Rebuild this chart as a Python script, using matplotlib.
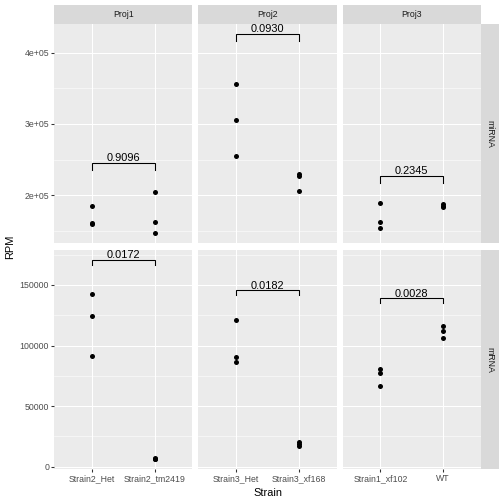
import matplotlib
matplotlib.use("Agg")
import matplotlib.pyplot as plt
from matplotlib.patches import Rectangle
import numpy as np

plt.rcParams['font.family'] = ['Liberation Sans', 'DejaVu Sans']

# ---------------- data ----------------
projects = ['Proj1', 'Proj2', 'Proj3']
rna_types = ['miRNA', 'mRNA']
proj_strains = [
    ['Strain2_Het', 'Strain2_tm2419'],
    ['Strain3_Het', 'Strain3_xf168'],
    ['Strain1_xf102', 'WT'],
]

# miRNA values (RPM)
mirna_proj1_a = [185000, 161000, 160000]
mirna_proj1_b = [204600, 162800, 146600]
mirna_proj2_a = [355200, 305000, 255400]
mirna_proj2_b = [230000, 227000, 205600]
mirna_proj3_a = [189300, 162000, 153600]
mirna_proj3_b = [188000, 185500, 183000]

# mRNA values (RPM)
mrna_proj1_a = [142500, 124100, 91100]
mrna_proj1_b = [7200, 6600, 6100]
mrna_proj2_a = [121300, 90300, 86400]
mrna_proj2_b = [20500, 19000, 17500]
mrna_proj3_a = [80600, 77000, 66800]
mrna_proj3_b = [116100, 112200, 106400]

mirna_pvals = ['0.9096', '0.0930', '0.2345']
mrna_pvals = ['0.0172', '0.0182', '0.0028']
mirna_bracket_y = [245600, 426000, 227000]
mrna_bracket_y = [170600, 145800, 139000]

mirna_ticks = [200000, 300000, 400000]
mirna_ticklabels = ['2e+05', '3e+05', '4e+05']
mrna_ticks = [0, 50000, 100000, 150000]
mrna_ticklabels = ['0', '50000', '100000', '150000']

values = [
    [(mirna_proj1_a, mirna_proj1_b), (mirna_proj2_a, mirna_proj2_b), (mirna_proj3_a, mirna_proj3_b)],
    [(mrna_proj1_a, mrna_proj1_b), (mrna_proj2_a, mrna_proj2_b), (mrna_proj3_a, mrna_proj3_b)],
]
pvals = [mirna_pvals, mrna_pvals]
bracket_y = [mirna_bracket_y, mrna_bracket_y]
ticks = [mirna_ticks, mrna_ticks]
ticklabels = [mirna_ticklabels, mrna_ticklabels]

# ---------------- layout ----------------
W = H = 504
fig = plt.figure(figsize=(W / 72, H / 72), dpi=72)

col_left = [54.0, 198.3, 342.6]
col_w = 138.4
row_top = [24.0, 250.0]
row_h = 219.3
strip_top = 5.0
strip_r_x = 480.5
strip_r_w = 18.5
tip_frac = [0.032, 0.023]

GRID_MAJOR = 1.07
GRID_MINOR = 0.53
PANEL_BG = '#EBEBEB'
STRIP_BG = '#D9D9D9'


def px_rect(x, y, w, h):
    return [x / W, 1 - (y + h) / H, w / W, h / H]


for r in range(2):
    # y limits from data with ggplot-like 5% expansion
    allv = []
    for c in range(3):
        a, b = values[r][c]
        allv += list(a) + list(b) + [bracket_y[r][c]]
    lo, hi = min(allv), max(allv)
    pad = 0.05 * (hi - lo)
    ylim = (lo - pad, hi + pad)
    maj = np.array(ticks[r])
    step = maj[1] - maj[0]
    minors = np.arange(maj[0] - step / 2, ylim[1], step)
    minors = minors[(minors > ylim[0]) & (minors < ylim[1])]

    for c in range(3):
        ax = fig.add_axes(px_rect(col_left[c], row_top[r], col_w, row_h))
        ax.set_facecolor(PANEL_BG)
        for s in ax.spines.values():
            s.set_visible(False)
        ax.set_xlim(0.4, 2.6)
        ax.set_ylim(*ylim)
        for m in minors:
            ax.axhline(m, color='white', lw=GRID_MINOR, zorder=0)
        for t in maj:
            ax.axhline(t, color='white', lw=GRID_MAJOR, zorder=0)
        for xv in (1, 2):
            ax.axvline(xv, color='white', lw=GRID_MAJOR, zorder=0)

        a, b = values[r][c]
        ax.plot([1] * len(a), a, 'o', color='black', ms=5, mec='none', zorder=3)
        ax.plot([2] * len(b), b, 'o', color='black', ms=5, mec='none', zorder=3)

        # significance bracket
        by = bracket_y[r][c]
        tip = tip_frac[r] * (ylim[1] - ylim[0])
        ax.plot([1, 1, 2, 2], [by - tip, by, by, by - tip], color='black',
                lw=1.07, solid_joinstyle='miter', clip_on=False, zorder=4)
        ax.annotate(pvals[r][c], xy=(1.5, by), xytext=(0, 1.5),
                    textcoords='offset points', ha='center', va='baseline',
                    fontsize=11, color='black', annotation_clip=False)

        ax.tick_params(axis='both', which='both', length=2.75, width=GRID_MAJOR,
                       color='#333333', labelcolor='#4D4D4D', labelsize=8.8, pad=2.2)
        ax.set_yticks(ticks[r])
        if c == 0:
            ax.set_yticklabels(ticklabels[r])
        else:
            ax.tick_params(axis='y', left=False, labelleft=False)
        if r == 1:
            ax.set_xticks([1, 2])
            ax.set_xticklabels(proj_strains[c])
        else:
            ax.set_xticks([])

        # top strips
        if r == 0:
            fig.patches.append(Rectangle((col_left[c] / W, 1 - row_top[0] / H),
                                         col_w / W, (row_top[0] - strip_top) / H,
                                         transform=fig.transFigure,
                                         facecolor=STRIP_BG, edgecolor='none'))
            fig.text((col_left[c] + col_w / 2) / W,
                     1 - ((strip_top + row_top[0]) / 2) / H,
                     projects[c], ha='center', va='center', fontsize=8.8,
                     color='#1A1A1A')

    # right strips
    fig.patches.append(Rectangle((strip_r_x / W, 1 - (row_top[r] + row_h) / H),
                                 strip_r_w / W, row_h / H,
                                 transform=fig.transFigure,
                                 facecolor=STRIP_BG, edgecolor='none'))
    fig.text((strip_r_x + strip_r_w / 2) / W, 1 - (row_top[r] + row_h / 2) / H,
             rna_types[r], ha='center', va='center', rotation=-90,
             fontsize=8.8, color='#1A1A1A')

# axis titles
fig.text(10 / W, 1 - ((row_top[0] + row_top[1] + row_h) / 2) / H, 'RPM',
         rotation=90, ha='center', va='center', fontsize=11, color='black')
fig.text((col_left[0] + col_left[2] + col_w) / 2 / W, 1 - 493 / H, 'Strain',
         ha='center', va='center', fontsize=11, color='black')

fig.savefig('out.png', dpi=72, facecolor='white')
